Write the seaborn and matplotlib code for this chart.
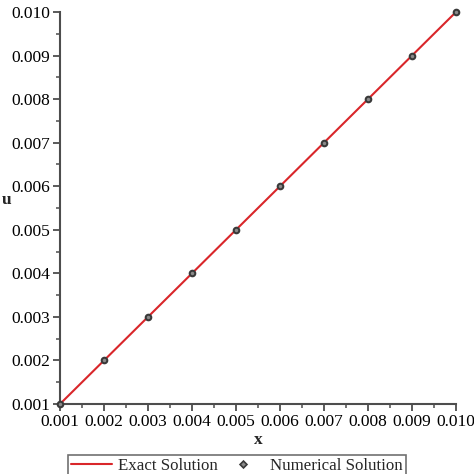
"""Exact vs numerical solution, Maple-style line plot."""

import matplotlib

matplotlib.use("Agg")

import matplotlib.pyplot as plt
import pandas as pd
import seaborn as sns
from matplotlib.lines import Line2D
from matplotlib.ticker import MultipleLocator

x_values = [0.001, 0.002, 0.003, 0.004, 0.005, 0.006, 0.007, 0.008, 0.009, 0.010]
exact_u = [0.001, 0.002, 0.003, 0.004, 0.005, 0.006, 0.007, 0.008, 0.009, 0.010]
numerical_u = [0.001, 0.002, 0.003, 0.004, 0.005, 0.006, 0.007, 0.008, 0.009, 0.010]
tick_labels = ["0.001", "0.002", "0.003", "0.004", "0.005",
               "0.006", "0.007", "0.008", "0.009", "0.010"]

RED = "#d9262a"
AXIS = "#4d4d4d"
MARKER = "#3a3a3a"

sns.set_theme(style="white")
plt.rcParams["font.family"] = ["Liberation Serif", "DejaVu Serif"]

data = pd.DataFrame({"x": x_values, "exact": exact_u, "numerical": numerical_u})

fig = plt.figure(figsize=(4.74, 4.74), dpi=100)
ax = fig.add_axes([60 / 474, 70 / 474, 396 / 474, 392 / 474])

sns.lineplot(data=data, x="x", y="exact", color=RED, linewidth=1.5, ax=ax)
sns.scatterplot(data=data, x="x", y="numerical", marker="o", s=16,
                color="#8a8a8a", edgecolor=MARKER, linewidth=1.5, ax=ax,
                zorder=3, clip_on=False)

ax.set_xlim(0.001, 0.010)
ax.set_ylim(0.001, 0.010)
ax.set_xticks(x_values)
ax.set_xticklabels(tick_labels)
ax.set_yticks(x_values)
ax.set_yticklabels(tick_labels)
ax.xaxis.set_minor_locator(MultipleLocator(0.0005))
ax.yaxis.set_minor_locator(MultipleLocator(0.0005))

for side in ["top", "right"]:
    ax.spines[side].set_visible(False)
for side in ["left", "bottom"]:
    ax.spines[side].set_color(AXIS)
    ax.spines[side].set_linewidth(1.5)

ax.tick_params(axis="both", which="major", direction="out", length=5, width=1.3,
               color=AXIS, labelsize=12.5, labelcolor="black", pad=2,
               bottom=True, left=True)
ax.tick_params(axis="both", which="minor", direction="out", length=3, width=1.1,
               color=AXIS, bottom=True, left=True)

ax.set_xlabel("x", fontsize=12.5, fontweight="bold", labelpad=2)
ax.set_ylabel("u", fontsize=12.5, fontweight="bold", rotation=0)
ax.yaxis.set_label_coords(-0.135, 0.5)
ax.grid(False)

handles = [
    Line2D([], [], color=RED, linewidth=1.5),
    Line2D([], [], color="#8a8a8a", marker="D", markersize=3.5,
           markeredgecolor=MARKER, markeredgewidth=1.2, linestyle="none"),
]
leg = fig.legend(handles, ["Exact Solution", "Numerical Solution"],
                 loc="upper left", bbox_to_anchor=(68 / 474, 1 - 455 / 474),
                 ncol=2, frameon=True, fancybox=False, fontsize=12.2,
                 handlelength=2.4, columnspacing=0.3, handletextpad=0.35,
                 borderpad=0.2, borderaxespad=0)
leg.get_frame().set_edgecolor(AXIS)
leg.get_frame().set_linewidth(1.2)

fig.savefig("out.png", dpi=100, facecolor="white")
